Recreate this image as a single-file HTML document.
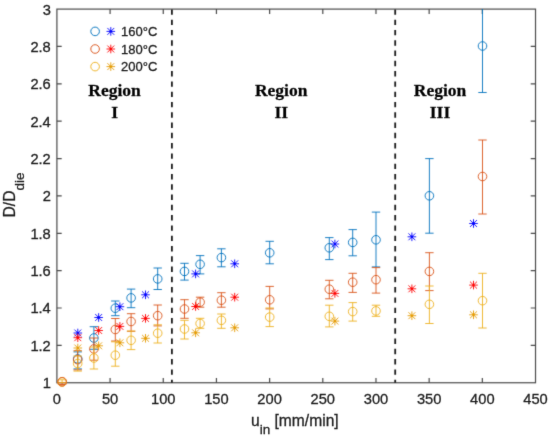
<!DOCTYPE html>
<html><head><meta charset="utf-8"><title>D/Ddie vs uin</title>
<style>
html,body{margin:0;padding:0;background:#fff;}
body{width:550px;height:439px;overflow:hidden;}
svg{display:block;}
</style></head>
<body>
<svg width="550" height="439" viewBox="0 0 550 439">
<defs><filter id="bl" color-interpolation-filters="sRGB" x="0" y="0" width="550" height="439" filterUnits="userSpaceOnUse"><feConvolveMatrix order="3" kernelMatrix="0.01440 0.09120 0.01440 0.09120 0.57760 0.09120 0.01440 0.09120 0.01440" divisor="1" edgeMode="duplicate" preserveAlpha="false"/></filter><filter id="bt" color-interpolation-filters="sRGB" x="0" y="0" width="550" height="439" filterUnits="userSpaceOnUse"><feConvolveMatrix order="3" kernelMatrix="0.00810 0.07380 0.00810 0.07380 0.67240 0.07380 0.00810 0.07380 0.00810" divisor="1" edgeMode="duplicate" preserveAlpha="false"/></filter><clipPath id="ax"><rect x="56.9" y="9.1" width="478.62" height="379.65"/></clipPath></defs>
<rect width="550" height="439" fill="#fff"/>
<g filter="url(#bl)"><rect width="550" height="439" fill="#fff"/>
<g stroke="#4a4a4a" stroke-width="1.2" fill="none"><rect x="56.9" y="9.1" width="478.62" height="373.65"/><path d="M110.08 382.75V377.95M110.08 9.1V13.9M163.26 382.75V377.95M163.26 9.1V13.9M216.44 382.75V377.95M216.44 9.1V13.9M269.62 382.75V377.95M269.62 9.1V13.9M322.8 382.75V377.95M322.8 9.1V13.9M375.98 382.75V377.95M375.98 9.1V13.9M429.16 382.75V377.95M429.16 9.1V13.9M482.34 382.75V377.95M482.34 9.1V13.9M56.9 345.38H61.7M535.52 345.38H530.72M56.9 308.02H61.7M535.52 308.02H530.72M56.9 270.65H61.7M535.52 270.65H530.72M56.9 233.29H61.7M535.52 233.29H530.72M56.9 195.93H61.7M535.52 195.93H530.72M56.9 158.56H61.7M535.52 158.56H530.72M56.9 121.19H61.7M535.52 121.19H530.72M56.9 83.83H61.7M535.52 83.83H530.72M56.9 46.47H61.7M535.52 46.47H530.72"/></g><g stroke="#1a1a1a" stroke-width="1.8" stroke-dasharray="5.4 4.886"><line x1="171.9" y1="9.4" x2="171.9" y2="382.75"/><line x1="395.2" y1="9.4" x2="395.2" y2="382.75"/></g><g stroke="#0072BD" stroke-width="0.9" fill="none" clip-path="url(#ax)"><line x1="77.7" y1="351.9" x2="77.7" y2="368.9"/><line x1="73.5" y1="351.9" x2="81.9" y2="351.9"/><line x1="73.5" y1="368.9" x2="81.9" y2="368.9"/><circle cx="77.7" cy="358.9" r="4.3"/><line x1="93.9" y1="326.7" x2="93.9" y2="349.3"/><line x1="89.7" y1="326.7" x2="98.1" y2="326.7"/><line x1="89.7" y1="349.3" x2="98.1" y2="349.3"/><circle cx="93.9" cy="338" r="4.3"/><line x1="115.3" y1="301" x2="115.3" y2="315.7"/><line x1="111.1" y1="301" x2="119.5" y2="301"/><line x1="111.1" y1="315.7" x2="119.5" y2="315.7"/><circle cx="115.3" cy="308.2" r="4.3"/><line x1="131.1" y1="289.1" x2="131.1" y2="307.7"/><line x1="126.9" y1="289.1" x2="135.3" y2="289.1"/><line x1="126.9" y1="307.7" x2="135.3" y2="307.7"/><circle cx="131.1" cy="297.9" r="4.3"/><line x1="157.7" y1="268" x2="157.7" y2="289.5"/><line x1="153.5" y1="268" x2="161.9" y2="268"/><line x1="153.5" y1="289.5" x2="161.9" y2="289.5"/><circle cx="157.7" cy="278.9" r="4.3"/><line x1="184.5" y1="263.3" x2="184.5" y2="280.1"/><line x1="180.3" y1="263.3" x2="188.7" y2="263.3"/><line x1="180.3" y1="280.1" x2="188.7" y2="280.1"/><circle cx="184.5" cy="271.4" r="4.3"/><line x1="200.1" y1="255.6" x2="200.1" y2="273.9"/><line x1="195.9" y1="255.6" x2="204.3" y2="255.6"/><line x1="195.9" y1="273.9" x2="204.3" y2="273.9"/><circle cx="200.1" cy="264.3" r="4.3"/><line x1="221.4" y1="248.8" x2="221.4" y2="266.8"/><line x1="217.2" y1="248.8" x2="225.6" y2="248.8"/><line x1="217.2" y1="266.8" x2="225.6" y2="266.8"/><circle cx="221.4" cy="257.6" r="4.3"/><line x1="269.7" y1="241.3" x2="269.7" y2="263.8"/><line x1="265.5" y1="241.3" x2="273.9" y2="241.3"/><line x1="265.5" y1="263.8" x2="273.9" y2="263.8"/><circle cx="269.7" cy="252.8" r="4.3"/><line x1="329.3" y1="237.6" x2="329.3" y2="259.6"/><line x1="325.1" y1="237.6" x2="333.5" y2="237.6"/><line x1="325.1" y1="259.6" x2="333.5" y2="259.6"/><circle cx="329.3" cy="247.8" r="4.3"/><line x1="352.7" y1="229.6" x2="352.7" y2="255.8"/><line x1="348.5" y1="229.6" x2="356.9" y2="229.6"/><line x1="348.5" y1="255.8" x2="356.9" y2="255.8"/><circle cx="352.7" cy="242.4" r="4.3"/><line x1="376" y1="212.1" x2="376" y2="266.9"/><line x1="371.8" y1="212.1" x2="380.2" y2="212.1"/><line x1="371.8" y1="266.9" x2="380.2" y2="266.9"/><circle cx="376" cy="239.8" r="4.3"/><line x1="429.4" y1="158.6" x2="429.4" y2="233.2"/><line x1="425.2" y1="158.6" x2="433.6" y2="158.6"/><line x1="425.2" y1="233.2" x2="433.6" y2="233.2"/><circle cx="429.4" cy="195.8" r="4.3"/><line x1="482.5" y1="-5" x2="482.5" y2="92.5"/><line x1="478.3" y1="92.5" x2="486.7" y2="92.5"/><circle cx="482.5" cy="46" r="4.3"/></g><g stroke="#D95319" stroke-width="0.9" fill="none" clip-path="url(#ax)"><line x1="62.1" y1="382.7" x2="62.1" y2="384.5"/><line x1="57.9" y1="382.7" x2="66.3" y2="382.7"/><line x1="57.9" y1="384.5" x2="66.3" y2="384.5"/><circle cx="62.1" cy="381.8" r="4.3"/><line x1="77.7" y1="350.7" x2="77.7" y2="369.9"/><line x1="73.5" y1="350.7" x2="81.9" y2="350.7"/><line x1="73.5" y1="369.9" x2="81.9" y2="369.9"/><circle cx="77.7" cy="359.7" r="4.3"/><line x1="93.9" y1="338" x2="93.9" y2="360.2"/><line x1="89.7" y1="338" x2="98.1" y2="338"/><line x1="89.7" y1="360.2" x2="98.1" y2="360.2"/><circle cx="93.9" cy="348.9" r="4.3"/><line x1="115.3" y1="318.5" x2="115.3" y2="341"/><line x1="111.1" y1="318.5" x2="119.5" y2="318.5"/><line x1="111.1" y1="341" x2="119.5" y2="341"/><circle cx="115.3" cy="329.5" r="4.3"/><line x1="131.1" y1="313.7" x2="131.1" y2="331.3"/><line x1="126.9" y1="313.7" x2="135.3" y2="313.7"/><line x1="126.9" y1="331.3" x2="135.3" y2="331.3"/><circle cx="131.1" cy="321.5" r="4.3"/><line x1="157.7" y1="305" x2="157.7" y2="325.9"/><line x1="153.5" y1="305" x2="161.9" y2="305"/><line x1="153.5" y1="325.9" x2="161.9" y2="325.9"/><circle cx="157.7" cy="315.7" r="4.3"/><line x1="184.5" y1="299.7" x2="184.5" y2="318.3"/><line x1="180.3" y1="299.7" x2="188.7" y2="299.7"/><line x1="180.3" y1="318.3" x2="188.7" y2="318.3"/><circle cx="184.5" cy="309" r="4.3"/><line x1="200.1" y1="297.2" x2="200.1" y2="307.2"/><line x1="195.9" y1="297.2" x2="204.3" y2="297.2"/><line x1="195.9" y1="307.2" x2="204.3" y2="307.2"/><circle cx="200.1" cy="302.2" r="4.3"/><line x1="221.4" y1="292.7" x2="221.4" y2="307.2"/><line x1="217.2" y1="292.7" x2="225.6" y2="292.7"/><line x1="217.2" y1="307.2" x2="225.6" y2="307.2"/><circle cx="221.4" cy="300.2" r="4.3"/><line x1="269.7" y1="286.4" x2="269.7" y2="308.9"/><line x1="265.5" y1="286.4" x2="273.9" y2="286.4"/><line x1="265.5" y1="308.9" x2="273.9" y2="308.9"/><circle cx="269.7" cy="299.8" r="4.3"/><line x1="329.3" y1="280.3" x2="329.3" y2="298.8"/><line x1="325.1" y1="280.3" x2="333.5" y2="280.3"/><line x1="325.1" y1="298.8" x2="333.5" y2="298.8"/><circle cx="329.3" cy="289.2" r="4.3"/><line x1="352.7" y1="273.3" x2="352.7" y2="292.4"/><line x1="348.5" y1="273.3" x2="356.9" y2="273.3"/><line x1="348.5" y1="292.4" x2="356.9" y2="292.4"/><circle cx="352.7" cy="282.2" r="4.3"/><line x1="376" y1="267.6" x2="376" y2="293.1"/><line x1="371.8" y1="267.6" x2="380.2" y2="267.6"/><line x1="371.8" y1="293.1" x2="380.2" y2="293.1"/><circle cx="376" cy="279.7" r="4.3"/><line x1="429.4" y1="252.7" x2="429.4" y2="290.6"/><line x1="425.2" y1="252.7" x2="433.6" y2="252.7"/><line x1="425.2" y1="290.6" x2="433.6" y2="290.6"/><circle cx="429.4" cy="271.4" r="4.3"/><line x1="482.5" y1="140" x2="482.5" y2="214"/><line x1="478.3" y1="140" x2="486.7" y2="140"/><line x1="478.3" y1="214" x2="486.7" y2="214"/><circle cx="482.5" cy="176.5" r="4.3"/></g><g stroke="#EDB120" stroke-width="0.9" fill="none" clip-path="url(#ax)"><line x1="62.1" y1="379.8" x2="62.1" y2="382.7"/><line x1="57.9" y1="379.8" x2="66.3" y2="379.8"/><line x1="57.9" y1="382.7" x2="66.3" y2="382.7"/><circle cx="62.1" cy="382" r="4.3"/><line x1="77.7" y1="356" x2="77.7" y2="371.1"/><line x1="73.5" y1="356" x2="81.9" y2="356"/><line x1="73.5" y1="371.1" x2="81.9" y2="371.1"/><circle cx="77.7" cy="363.5" r="4.3"/><line x1="93.9" y1="347" x2="93.9" y2="369"/><line x1="89.7" y1="347" x2="98.1" y2="347"/><line x1="89.7" y1="369" x2="98.1" y2="369"/><circle cx="93.9" cy="358" r="4.3"/><line x1="115.3" y1="341.8" x2="115.3" y2="366.2"/><line x1="111.1" y1="341.8" x2="119.5" y2="341.8"/><line x1="111.1" y1="366.2" x2="119.5" y2="366.2"/><circle cx="115.3" cy="355.2" r="4.3"/><line x1="131.1" y1="331" x2="131.1" y2="349.6"/><line x1="126.9" y1="331" x2="135.3" y2="331"/><line x1="126.9" y1="349.6" x2="135.3" y2="349.6"/><circle cx="131.1" cy="340.3" r="4.3"/><line x1="157.7" y1="324.8" x2="157.7" y2="343"/><line x1="153.5" y1="324.8" x2="161.9" y2="324.8"/><line x1="153.5" y1="343" x2="161.9" y2="343"/><circle cx="157.7" cy="333.2" r="4.3"/><line x1="184.5" y1="320.3" x2="184.5" y2="339"/><line x1="180.3" y1="320.3" x2="188.7" y2="320.3"/><line x1="180.3" y1="339" x2="188.7" y2="339"/><circle cx="184.5" cy="329" r="4.3"/><line x1="200.1" y1="318.3" x2="200.1" y2="328.3"/><line x1="195.9" y1="318.3" x2="204.3" y2="318.3"/><line x1="195.9" y1="328.3" x2="204.3" y2="328.3"/><circle cx="200.1" cy="323.5" r="4.3"/><line x1="221.4" y1="314" x2="221.4" y2="328.3"/><line x1="217.2" y1="314" x2="225.6" y2="314"/><line x1="217.2" y1="328.3" x2="225.6" y2="328.3"/><circle cx="221.4" cy="320.3" r="4.3"/><line x1="269.7" y1="308" x2="269.7" y2="326.6"/><line x1="265.5" y1="308" x2="273.9" y2="308"/><line x1="265.5" y1="326.6" x2="273.9" y2="326.6"/><circle cx="269.7" cy="317.1" r="4.3"/><line x1="329.3" y1="305.2" x2="329.3" y2="326.9"/><line x1="325.1" y1="305.2" x2="333.5" y2="305.2"/><line x1="325.1" y1="326.9" x2="333.5" y2="326.9"/><circle cx="329.3" cy="316.3" r="4.3"/><line x1="352.7" y1="302.6" x2="352.7" y2="321.1"/><line x1="348.5" y1="302.6" x2="356.9" y2="302.6"/><line x1="348.5" y1="321.1" x2="356.9" y2="321.1"/><circle cx="352.7" cy="311.6" r="4.3"/><line x1="376" y1="305.2" x2="376" y2="316.3"/><line x1="371.8" y1="305.2" x2="380.2" y2="305.2"/><line x1="371.8" y1="316.3" x2="380.2" y2="316.3"/><circle cx="376" cy="310.9" r="4.3"/><line x1="429.4" y1="286" x2="429.4" y2="323.5"/><line x1="425.2" y1="286" x2="433.6" y2="286"/><line x1="425.2" y1="323.5" x2="433.6" y2="323.5"/><circle cx="429.4" cy="304.3" r="4.3"/><line x1="482.5" y1="273.3" x2="482.5" y2="328"/><line x1="478.3" y1="273.3" x2="486.7" y2="273.3"/><line x1="478.3" y1="328" x2="486.7" y2="328"/><circle cx="482.5" cy="300.7" r="4.3"/></g><circle cx="62.1" cy="381.7" r="4.3" stroke="#D95319" stroke-opacity="0.75" stroke-width="0.9" fill="none"/><g stroke="#0000FF" color="#0000FF" stroke-width="0.9" fill="none"><path d="M73.5 333H82.1M77.8 328.7V337.3M74.36 329.56L81.24 336.44M74.36 336.44L81.24 329.56"/><circle cx="77.8" cy="333" r="1.2" stroke="none" fill="currentColor"/><path d="M94.35 317.5H102.95M98.65 313.2V321.8M95.21 314.06L102.09 320.94M95.21 320.94L102.09 314.06"/><circle cx="98.65" cy="317.5" r="1.2" stroke="none" fill="currentColor"/><path d="M115.6 306.7H124.2M119.9 302.4V311M116.46 303.26L123.34 310.14M116.46 310.14L123.34 303.26"/><circle cx="119.9" cy="306.7" r="1.2" stroke="none" fill="currentColor"/><path d="M141.2 294.8H149.8M145.5 290.5V299.1M142.06 291.36L148.94 298.24M142.06 298.24L148.94 291.36"/><circle cx="145.5" cy="294.8" r="1.2" stroke="none" fill="currentColor"/><path d="M191.3 273.9H199.9M195.6 269.6V278.2M192.16 270.46L199.04 277.34M192.16 277.34L199.04 270.46"/><circle cx="195.6" cy="273.9" r="1.2" stroke="none" fill="currentColor"/><path d="M230.4 263.8H239M234.7 259.5V268.1M231.26 260.36L238.14 267.24M231.26 267.24L238.14 260.36"/><circle cx="234.7" cy="263.8" r="1.2" stroke="none" fill="currentColor"/><path d="M330.6 244H339.2M334.9 239.7V248.3M331.46 240.56L338.34 247.44M331.46 247.44L338.34 240.56"/><circle cx="334.9" cy="244" r="1.2" stroke="none" fill="currentColor"/><path d="M407.6 236.8H416.2M411.9 232.5V241.1M408.46 233.36L415.34 240.24M408.46 240.24L415.34 233.36"/><circle cx="411.9" cy="236.8" r="1.2" stroke="none" fill="currentColor"/><path d="M469.2 223.5H477.8M473.5 219.2V227.8M470.06 220.06L476.94 226.94M470.06 226.94L476.94 220.06"/><circle cx="473.5" cy="223.5" r="1.2" stroke="none" fill="currentColor"/></g><g stroke="#FF0000" color="#FF0000" stroke-width="0.9" fill="none"><path d="M73.5 337.7H82.1M77.8 333.4V342M74.36 334.26L81.24 341.14M74.36 341.14L81.24 334.26"/><circle cx="77.8" cy="337.7" r="1.2" stroke="none" fill="currentColor"/><path d="M94.35 330.5H102.95M98.65 326.2V334.8M95.21 327.06L102.09 333.94M95.21 333.94L102.09 327.06"/><circle cx="98.65" cy="330.5" r="1.2" stroke="none" fill="currentColor"/><path d="M115.6 326.4H124.2M119.9 322.1V330.7M116.46 322.96L123.34 329.84M116.46 329.84L123.34 322.96"/><circle cx="119.9" cy="326.4" r="1.2" stroke="none" fill="currentColor"/><path d="M141.2 318.4H149.8M145.5 314.1V322.7M142.06 314.96L148.94 321.84M142.06 321.84L148.94 314.96"/><circle cx="145.5" cy="318.4" r="1.2" stroke="none" fill="currentColor"/><path d="M191.3 306.5H199.9M195.6 302.2V310.8M192.16 303.06L199.04 309.94M192.16 309.94L199.04 303.06"/><circle cx="195.6" cy="306.5" r="1.2" stroke="none" fill="currentColor"/><path d="M230.4 297.2H239M234.7 292.9V301.5M231.26 293.76L238.14 300.64M231.26 300.64L238.14 293.76"/><circle cx="234.7" cy="297.2" r="1.2" stroke="none" fill="currentColor"/><path d="M330.6 293.4H339.2M334.9 289.1V297.7M331.46 289.96L338.34 296.84M331.46 296.84L338.34 289.96"/><circle cx="334.9" cy="293.4" r="1.2" stroke="none" fill="currentColor"/><path d="M407.6 288.8H416.2M411.9 284.5V293.1M408.46 285.36L415.34 292.24M408.46 292.24L415.34 285.36"/><circle cx="411.9" cy="288.8" r="1.2" stroke="none" fill="currentColor"/><path d="M469.2 285.1H477.8M473.5 280.8V289.4M470.06 281.66L476.94 288.54M470.06 288.54L476.94 281.66"/><circle cx="473.5" cy="285.1" r="1.2" stroke="none" fill="currentColor"/></g><g stroke="#E59C05" color="#E59C05" stroke-width="0.9" fill="none"><path d="M73.5 348H82.1M77.8 343.7V352.3M74.36 344.56L81.24 351.44M74.36 351.44L81.24 344.56"/><circle cx="77.8" cy="348" r="1.2" stroke="none" fill="currentColor"/><path d="M94.35 345.8H102.95M98.65 341.5V350.1M95.21 342.36L102.09 349.24M95.21 349.24L102.09 342.36"/><circle cx="98.65" cy="345.8" r="1.2" stroke="none" fill="currentColor"/><path d="M115.6 342.8H124.2M119.9 338.5V347.1M116.46 339.36L123.34 346.24M116.46 346.24L123.34 339.36"/><circle cx="119.9" cy="342.8" r="1.2" stroke="none" fill="currentColor"/><path d="M141.2 338.3H149.8M145.5 334V342.6M142.06 334.86L148.94 341.74M142.06 341.74L148.94 334.86"/><circle cx="145.5" cy="338.3" r="1.2" stroke="none" fill="currentColor"/><path d="M191.3 332.8H199.9M195.6 328.5V337.1M192.16 329.36L199.04 336.24M192.16 336.24L199.04 329.36"/><circle cx="195.6" cy="332.8" r="1.2" stroke="none" fill="currentColor"/><path d="M230.4 327.8H239M234.7 323.5V332.1M231.26 324.36L238.14 331.24M231.26 331.24L238.14 324.36"/><circle cx="234.7" cy="327.8" r="1.2" stroke="none" fill="currentColor"/><path d="M330.6 321.1H339.2M334.9 316.8V325.4M331.46 317.66L338.34 324.54M331.46 324.54L338.34 317.66"/><circle cx="334.9" cy="321.1" r="1.2" stroke="none" fill="currentColor"/><path d="M407.6 315.7H416.2M411.9 311.4V320M408.46 312.26L415.34 319.14M408.46 319.14L415.34 312.26"/><circle cx="411.9" cy="315.7" r="1.2" stroke="none" fill="currentColor"/><path d="M469.2 314.8H477.8M473.5 310.5V319.1M470.06 311.36L476.94 318.24M470.06 318.24L476.94 311.36"/><circle cx="473.5" cy="314.8" r="1.2" stroke="none" fill="currentColor"/></g><circle cx="95.1" cy="31.4" r="4.3" stroke="#0072BD" stroke-width="0.95" fill="none"/><g stroke="#0000FF" color="#0000FF" stroke-width="0.9" fill="none"><path d="M106.5 31.4H115.1M110.8 27.1V35.7M107.36 27.96L114.24 34.84M107.36 34.84L114.24 27.96"/><circle cx="110.8" cy="31.4" r="1.2" stroke="none" fill="currentColor"/></g><circle cx="95.1" cy="49" r="4.3" stroke="#D95319" stroke-width="0.95" fill="none"/><g stroke="#FF0000" color="#FF0000" stroke-width="0.9" fill="none"><path d="M106.5 49H115.1M110.8 44.7V53.3M107.36 45.56L114.24 52.44M107.36 52.44L114.24 45.56"/><circle cx="110.8" cy="49" r="1.2" stroke="none" fill="currentColor"/></g><circle cx="95.1" cy="66.6" r="4.3" stroke="#EDB120" stroke-width="0.95" fill="none"/><g stroke="#E59C05" color="#E59C05" stroke-width="0.9" fill="none"><path d="M106.5 66.6H115.1M110.8 62.3V70.9M107.36 63.16L114.24 70.04M107.36 70.04L114.24 63.16"/><circle cx="110.8" cy="66.6" r="1.2" stroke="none" fill="currentColor"/></g>
</g>
<g filter="url(#bt)" stroke="#1e1e1e" stroke-width="0.3"><rect width="550" height="439" fill="none" stroke="none"/><g font-family="Liberation Sans, Arial, sans-serif" font-size="14.7" fill="#1e1e1e"><text x="56.9" y="404.4" text-anchor="middle">0</text><text x="110.08" y="404.4" text-anchor="middle">50</text><text x="163.26" y="404.4" text-anchor="middle">100</text><text x="216.44" y="404.4" text-anchor="middle">150</text><text x="269.62" y="404.4" text-anchor="middle">200</text><text x="322.8" y="404.4" text-anchor="middle">250</text><text x="375.98" y="404.4" text-anchor="middle">300</text><text x="429.16" y="404.4" text-anchor="middle">350</text><text x="482.34" y="404.4" text-anchor="middle">400</text><text x="535.52" y="404.4" text-anchor="middle">450</text><text x="50.8" y="388.15" text-anchor="end">1</text><text x="50.8" y="350.78" text-anchor="end">1.2</text><text x="50.8" y="313.42" text-anchor="end">1.4</text><text x="50.8" y="276.05" text-anchor="end">1.6</text><text x="50.8" y="238.69" text-anchor="end">1.8</text><text x="50.8" y="201.33" text-anchor="end">2</text><text x="50.8" y="163.96" text-anchor="end">2.2</text><text x="50.8" y="126.59" text-anchor="end">2.4</text><text x="50.8" y="89.23" text-anchor="end">2.6</text><text x="50.8" y="51.87" text-anchor="end">2.8</text><text x="50.8" y="14.5" text-anchor="end">3</text></g><text x="121.1" y="36.1" font-family="Liberation Sans, Arial, sans-serif" font-size="13" fill="#1e1e1e">160°C</text><text x="121.1" y="53.7" font-family="Liberation Sans, Arial, sans-serif" font-size="13" fill="#1e1e1e">180°C</text><text x="121.1" y="71.3" font-family="Liberation Sans, Arial, sans-serif" font-size="13" fill="#1e1e1e">200°C</text><g font-family="Liberation Serif, Times New Roman, serif" font-weight="bold" font-size="17.5" fill="#000" text-anchor="middle"><text x="114.6" y="96.2">Region</text><text x="114.6" y="117.6">I</text><text x="281.2" y="96.2">Region</text><text x="281.2" y="117.6">II</text><text x="440.0" y="96.2">Region</text><text x="440.0" y="117.6">III</text></g><text x="251" y="425.5" font-family="Liberation Sans, Arial, sans-serif" font-size="15.6" fill="#1e1e1e">u<tspan font-size="13.5" dy="8.6">in</tspan><tspan dy="-8.6"> [mm/min]</tspan></text><text transform="translate(15.2,217.4) rotate(-90)" font-family="Liberation Sans, Arial, sans-serif" font-size="15.6" fill="#1e1e1e">D/D<tspan font-size="13.5" dy="8.6">die</tspan></text></g>
</svg>
</body></html>
